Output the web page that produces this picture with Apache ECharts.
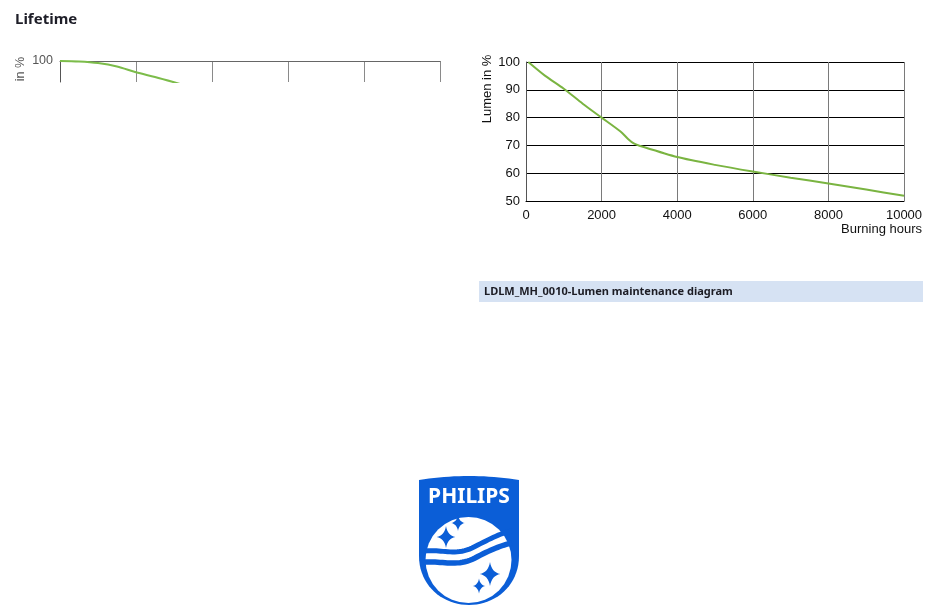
<!DOCTYPE html>
<html>
<head>
<meta charset="utf-8">
<script src="https://cdn.jsdelivr.net/npm/echarts@6/dist/echarts.min.js"></script>
<style>
html,body{margin:0;padding:0;background:#fff;}
#c{width:930px;height:609px;}
</style>
</head>
<body>
<div id="c"></div>
<script>
// Lifetime chart (only its top strip is visible)
const lifeHours = [0, 500, 1000, 1500, 2000, 2500, 3000, 3500];
const lifePct   = [100, 99.8, 99.2, 97.9, 95.7, 93.9, 91.9, 89.8];

// Lumen maintenance diagram
const lumenHours = [60, 500, 1000, 1500, 2000, 2500, 2700, 2850, 3000, 4000, 5000, 6000, 7000, 8000, 9000, 10000];
const lumenPct   = [100, 95.1, 90.4, 85.0, 80.0, 75.0, 72.3, 70.7, 69.9, 65.8, 63.0, 60.6, 58.4, 56.3, 54.1, 51.9];

const xTicks = [0, 2000, 4000, 6000, 8000, 10000];
const yTicks = [50, 60, 70, 80, 90, 100];

const pair = (xs, ys) => xs.map((x, i) => [x, ys[i]]);
const plain = v => String(v);

// ---- logo geometry helpers ----
function quad(p0, p1, p2, n) {
  const out = [];
  for (let i = 0; i <= n; i++) {
    const t = i / n, u = 1 - t;
    out.push([u*u*p0[0] + 2*u*t*p1[0] + t*t*p2[0], u*u*p0[1] + 2*u*t*p1[1] + t*t*p2[1]]);
  }
  return out;
}
function cubic(p0, p1, p2, p3, n) {
  const out = [];
  for (let i = 0; i <= n; i++) {
    const t = i / n, u = 1 - t;
    out.push([
      u*u*u*p0[0] + 3*u*u*t*p1[0] + 3*u*t*t*p2[0] + t*t*t*p3[0],
      u*u*u*p0[1] + 3*u*u*t*p1[1] + 3*u*t*t*p2[1] + t*t*t*p3[1]
    ]);
  }
  return out;
}
function shieldPoints() {
  let pts = [];
  pts = pts.concat(quad([419, 480], [469, 472], [519, 480], 20));
  pts.push([519, 556]);
  pts = pts.concat(cubic([519, 556], [519, 586], [495, 605], [469, 605], 20));
  pts = pts.concat(cubic([469, 605], [443, 605], [419, 586], [419, 556], 20));
  return pts;
}
function starPoints(cx, cy, r) {
  const k = r * 0.14, w = r * 0.85;
  let pts = [];
  pts = pts.concat(quad([cx, cy - r], [cx + k, cy - k], [cx + w, cy], 8));
  pts = pts.concat(quad([cx + w, cy], [cx + k, cy + k], [cx, cy + r], 8).slice(1));
  pts = pts.concat(quad([cx, cy + r], [cx - k, cy + k], [cx - w, cy], 8).slice(1));
  pts = pts.concat(quad([cx - w, cy], [cx - k, cy - k], [cx, cy - r], 8).slice(1));
  return pts;
}
function wavePoints(p0, p1, p2, p3, q1, q2, q3) {
  return cubic(p0, p1, p2, p3, 20).concat(cubic(p3, q1, q2, q3, 16).slice(1));
}

const blue = '#0b5ed7';
const chart = echarts.init(document.getElementById('c'));
chart.setOption({
  animation: false,
  backgroundColor: '#fff',
  grid: [
    { left: 60, right: 490, top: 61, height: 21, outerBoundsMode: 'none', containLabel: false },
    { left: 526, right: 26, top: 62, height: 139, outerBoundsMode: 'none', containLabel: false }
  ],
  xAxis: [
    {
      gridIndex: 0, type: 'value', position: 'top', min: 0, max: 10000, interval: 2000,
      axisLine: { show: true, lineStyle: { color: '#666', width: 1 } },
      axisTick: { show: false }, axisLabel: { show: false },
      splitLine: { show: true, lineStyle: { color: '#8a8a8a', width: 1 } }
    },
    {
      gridIndex: 1, type: 'value', min: xTicks[0], max: xTicks[xTicks.length - 1], interval: 2000,
      axisLine: { show: true, onZero: false, lineStyle: { color: '#000', width: 1 } },
      axisTick: { show: false },
      axisLabel: { color: '#111', fontSize: 13, fontFamily: 'Liberation Sans', margin: 8, formatter: plain },
      splitLine: { show: true, lineStyle: { color: '#7a7a7a', width: 1 } }
    }
  ],
  yAxis: [
    {
      gridIndex: 0, type: 'value', min: 92, max: 100, interval: 8,
      axisLine: { show: true, lineStyle: { color: '#555', width: 1 } },
      axisTick: { show: false },
      axisLabel: { color: '#555', fontSize: 12.5, fontFamily: 'Liberation Sans', margin: 7, showMinLabel: false, formatter: plain },
      splitLine: { show: false }
    },
    {
      gridIndex: 1, type: 'value', min: yTicks[0], max: yTicks[yTicks.length - 1], interval: 10,
      axisLine: { show: true, onZero: false, lineStyle: { color: '#555', width: 1 } },
      axisTick: { show: false },
      axisLabel: { color: '#111', fontSize: 13, fontFamily: 'Liberation Sans', margin: 6, formatter: plain },
      splitLine: { show: true, lineStyle: { color: '#000', width: 1 } }
    }
  ],
  series: [
    {
      type: 'line', xAxisIndex: 0, yAxisIndex: 0, data: pair(lifeHours, lifePct),
      smooth: 0.3, showSymbol: false, clip: true,
      lineStyle: { color: '#7cbc4a', width: 2 }
    },
    {
      type: 'line', xAxisIndex: 1, yAxisIndex: 1, data: pair(lumenHours, lumenPct),
      smooth: 0.25, showSymbol: false, clip: true,
      lineStyle: { color: '#7ab441', width: 2 }
    }
  ],
  graphic: [
    { type: 'text', left: 15, top: 12, style: { text: 'Lifetime', fill: '#1e1e28', font: 'bold 15px "Noto Sans"' } },
    { type: 'text', x: 21, y: 69, rotation: Math.PI / 2,
      style: { text: 'in %', fill: '#555', font: '12.5px "Liberation Sans"', align: 'center', verticalAlign: 'middle' } },
    { type: 'text', x: 487, y: 89, rotation: Math.PI / 2,
      style: { text: 'Lumen in %', fill: '#111', font: '13px "Liberation Sans"', align: 'center', verticalAlign: 'middle' } },
    { type: 'text', x: 922, y: 229,
      style: { text: 'Burning hours', fill: '#111', font: '13px "Liberation Sans"', align: 'right', verticalAlign: 'middle' } },
    { type: 'rect', shape: { x: 479, y: 281, width: 444, height: 21 }, style: { fill: '#d6e2f3' } },
    { type: 'text', x: 484, y: 292, style: { text: 'LDLM_MH_0010-Lumen maintenance diagram', fill: '#1c1c24', font: 'bold 11px "Noto Sans"', verticalAlign: 'middle' } },
    // Philips shield logo
    { type: 'polygon', shape: { points: shieldPoints() }, style: { fill: blue } },
    { type: 'text', x: 469, y: 497, style: { text: 'PHILIPS', fill: '#fff', font: 'bold 21px "Noto Sans"', align: 'center', verticalAlign: 'middle' } },
    { type: 'circle', shape: { cx: 468.5, cy: 560, r: 43 }, style: { fill: '#fff' } },
    { type: 'polyline', shape: { points: wavePoints([425, 551], [440, 549], [455, 556], [472, 548], [488, 540], [500, 533], [512, 531]) }, style: { fill: 'none', stroke: blue, lineWidth: 5 } },
    { type: 'polyline', shape: { points: wavePoints([425, 562], [442, 561], [458, 567], [475, 558], [490, 550], [502, 545], [512, 543]) }, style: { fill: 'none', stroke: blue, lineWidth: 5.5 } },
    { type: 'polygon', shape: { points: starPoints(446, 537, 11) }, style: { fill: blue } },
    { type: 'polygon', shape: { points: starPoints(458, 523, 8) }, style: { fill: blue } },
    { type: 'polygon', shape: { points: starPoints(490, 574, 12) }, style: { fill: blue } },
    { type: 'polygon', shape: { points: starPoints(479, 586, 7.5) }, style: { fill: blue } }
  ]
});
</script>
</body>
</html>
